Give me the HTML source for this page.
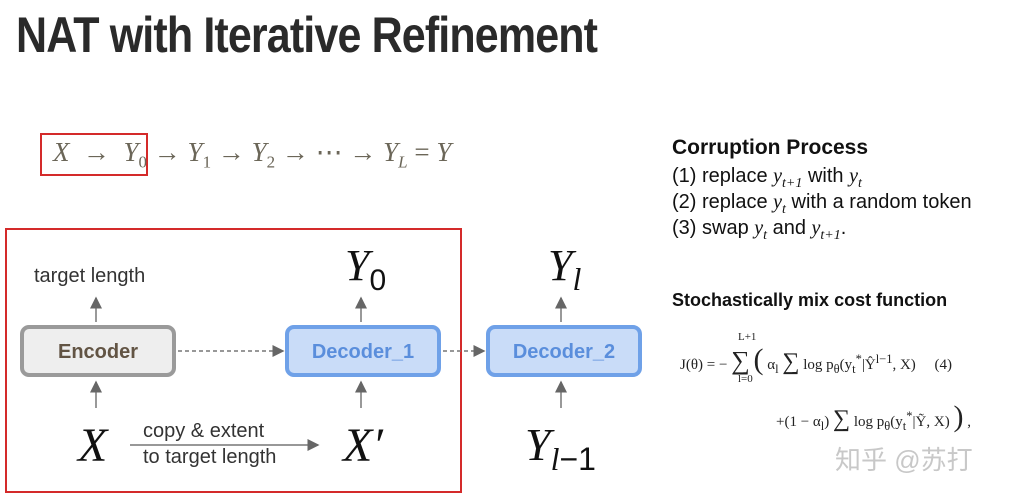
<!DOCTYPE html>
<html><head><meta charset="utf-8"><style>
body{margin:0;width:1022px;height:499px;background:#fff;position:relative;overflow:hidden;font-family:"Liberation Sans",sans-serif}
.a{position:absolute;white-space:nowrap}
.m{font-family:"Liberation Serif",serif;font-style:italic}
.box{position:absolute;border-radius:9px;box-sizing:border-box;font-weight:bold;font-size:20px;text-align:center;line-height:46px}
.c sub{line-height:0;font-size:14px}
</style></head><body>
<div class="a" style="left:16px;top:6px;font-family:'Liberation Sans Narrow','Liberation Sans',sans-serif;font-weight:bold;font-size:50px;color:#2a2a2a;transform:scaleX(0.86);transform-origin:left;letter-spacing:-1px">NAT with Iterative Refinement</div>

<div class="a" style="left:40px;top:133px;width:108px;height:43px;border:2px solid #d42a2a;box-sizing:border-box"></div>
<div class="a m" style="left:53px;top:137px;font-size:27px;color:#6b6658">X <span style="font-style:normal">&nbsp;→&nbsp;</span> Y<sub style="font-size:17px;font-style:normal">0</sub><span style="font-style:normal"> → </span>Y<sub style="font-size:17px;font-style:normal">1</sub><span style="font-style:normal"> → </span>Y<sub style="font-size:17px;font-style:normal">2</sub><span style="font-style:normal"> → ⋯ → </span>Y<sub style="font-size:17px">L</sub><span style="font-style:normal"> = </span>Y</div>

<div class="a" style="left:5px;top:228px;width:457px;height:265px;border:2px solid #d42a2a;box-sizing:border-box"></div>

<div class="box" style="left:20px;top:325px;width:156px;height:52px;background:#eeeeee;border:4px solid #9a9a9a;color:#625444">Encoder</div>
<div class="box" style="left:285px;top:325px;width:156px;height:52px;background:#c9dcf8;border:4px solid #6fa1e8;color:#5a8edc">Decoder_1</div>
<div class="box" style="left:486px;top:325px;width:156px;height:52px;background:#c9dcf8;border:4px solid #6fa1e8;color:#5a8edc">Decoder_2</div>

<svg class="a" style="left:0;top:0" width="1022" height="499">
<defs><marker id="h" markerWidth="8" markerHeight="8" refX="7" refY="4" orient="auto"><path d="M0,0L8,4L0,8z" fill="#666"/></marker></defs>
<g stroke="#777" stroke-width="1.5" fill="none">
<line x1="96" y1="322" x2="96" y2="298" marker-end="url(#h)"/>
<line x1="361" y1="322" x2="361" y2="298" marker-end="url(#h)"/>
<line x1="561" y1="322" x2="561" y2="298" marker-end="url(#h)"/>
<line x1="96" y1="408" x2="96" y2="382" marker-end="url(#h)"/>
<line x1="361" y1="408" x2="361" y2="382" marker-end="url(#h)"/>
<line x1="561" y1="408" x2="561" y2="382" marker-end="url(#h)"/>
<line x1="130" y1="445" x2="318" y2="445" marker-end="url(#h)"/>
<line x1="178" y1="351" x2="283" y2="351" stroke-dasharray="4,3" marker-end="url(#h)"/>
<line x1="443" y1="351" x2="484" y2="351" stroke-dasharray="4,3" marker-end="url(#h)"/>
</g></svg>

<div class="a" style="left:34px;top:265px;font-size:20px;color:#333">target length</div>
<div class="a m" style="left:345px;top:240px;font-size:44px;color:#111">Y<sub style="font-style:normal;font-size:30px;font-family:'Liberation Sans',sans-serif">0</sub></div>
<div class="a m" style="left:548px;top:240px;font-size:44px;color:#111">Y<sub style="font-size:32px">l</sub></div>
<div class="a m" style="left:78px;top:418px;font-size:48px;color:#111">X</div>
<div class="a m" style="left:343px;top:418px;font-size:48px;color:#111">X′</div>
<div class="a m" style="left:525px;top:418px;font-size:46px;color:#111">Y<sub style="font-size:32px">l<span style="font-style:normal;font-family:'Liberation Sans',sans-serif">−1</span></sub></div>
<div class="a" style="left:143px;top:420px;font-size:20px;color:#333">copy &amp; extent</div>
<div class="a" style="left:143px;top:446px;font-size:20px;color:#333">to target length</div>

<div class="a" style="left:672px;top:136px;font-size:21px;font-weight:bold;color:#111">Corruption Process</div>
<div class="a c" style="left:672px;top:163px;font-size:20px;color:#111;line-height:26px">(1) replace <i class="m">y<sub>t+1</sub></i> with <i class="m">y<sub>t</sub></i><br>(2) replace <i class="m">y<sub>t</sub></i> with a random token<br>(3) swap <i class="m">y<sub>t</sub></i> and <i class="m">y<sub>t+1</sub></i>.</div>

<div class="a" style="left:672px;top:290px;font-size:18px;font-weight:bold;color:#111">Stochastically mix cost function</div>
<div class="a" style="left:680px;top:343px;font-family:'Liberation Serif',serif;font-size:15px;color:#222">J(θ) = − <span style="font-size:26px">∑</span> <span style="font-size:30px">(</span> α<sub>l</sub> <span style="font-size:24px">∑</span> log p<sub>θ</sub>(y<sub>t</sub><sup>*</sup>|Ŷ<sup>l−1</sup>, X) &nbsp;&nbsp;&nbsp; (4)</div>
<div class="a" style="left:738px;top:331px;font-family:'Liberation Serif',serif;font-size:11px;color:#222">L+1</div>
<div class="a" style="left:738px;top:373px;font-family:'Liberation Serif',serif;font-size:11px;color:#222">l=0</div>
<div class="a" style="left:776px;top:400px;font-family:'Liberation Serif',serif;font-size:15px;color:#222">+(1 − α<sub>l</sub>) <span style="font-size:24px">∑</span> log p<sub>θ</sub>(y<sub>t</sub><sup>*</sup>|Ỹ, X) <span style="font-size:30px">)</span> ,</div>

<div class="a" style="left:835px;top:440px;font-family:'Liberation Sans','Noto Sans CJK SC',sans-serif;font-size:26px;color:#c8c8c8">知乎 @苏打</div>
</body></html>
